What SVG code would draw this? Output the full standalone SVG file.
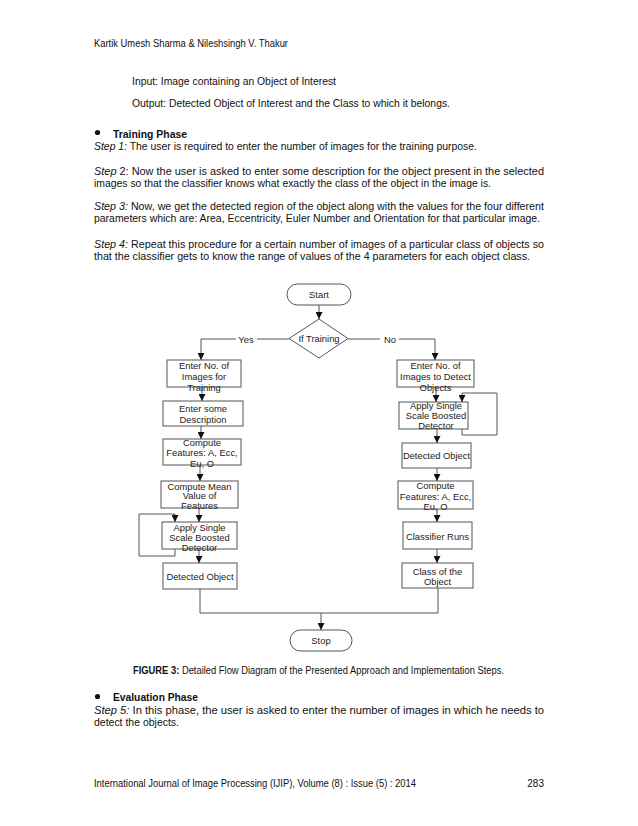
<svg xmlns="http://www.w3.org/2000/svg" width="638" height="826" viewBox="0 0 638 826">
<defs>
<style>
.t{font-family:"Liberation Sans",Arial,sans-serif;font-size:10px;fill:#111}
.b{font-weight:bold}
.i{font-style:italic}
.n{font-family:"Liberation Sans",Arial,sans-serif;font-size:9.4px;fill:#222;text-anchor:middle}
.box{fill:#fff;stroke:#555;stroke-width:1}
.ln{fill:none;stroke:#555;stroke-width:1}
.ar{fill:none;stroke:#555;stroke-width:1;marker-end:url(#ah)}
</style>
<marker id="ah" markerUnits="userSpaceOnUse" markerWidth="7" markerHeight="7" viewBox="0 0 7 7" refX="7" refY="3.5" orient="auto">
<path d="M0,0 L7,3.5 L0,7 Z" fill="#111"/>
</marker>
</defs>
<rect width="638" height="826" fill="#fff"/>

<g id="page-text">
<text class="t" x="94" y="46.5" font-size="9.3" textLength="194" lengthAdjust="spacingAndGlyphs">Kartik Umesh Sharma &amp; Nileshsingh V. Thakur</text>
<text class="t" x="132" y="84.5" textLength="204" lengthAdjust="spacingAndGlyphs">Input: Image containing an Object of Interest</text>
<text class="t" x="132" y="106.5" textLength="318" lengthAdjust="spacingAndGlyphs">Output: Detected Object of Interest and the Class to which it belongs.</text>
<circle cx="97.5" cy="132.5" r="2.6" fill="#111"/>
<text class="t b" x="113" y="137.5" textLength="74" lengthAdjust="spacingAndGlyphs">Training Phase</text>
<text class="t" x="94" y="149.5" textLength="383" lengthAdjust="spacingAndGlyphs"><tspan class="i">Step 1:</tspan> The user is required to enter the number of images for the training purpose.</text>
<text class="t" x="94" y="174.5" textLength="450" lengthAdjust="spacingAndGlyphs"><tspan class="i">Step</tspan> 2: Now the user is asked to enter some description for the object present in the selected</text>
<text class="t" x="94" y="186.5" textLength="397" lengthAdjust="spacingAndGlyphs">images so that the classifier knows what exactly the class of the object in the image is.</text>
<text class="t" x="94" y="209.5" textLength="450" lengthAdjust="spacingAndGlyphs"><tspan class="i">Step 3:</tspan> Now, we get the detected region of the object along with the values for the four different</text>
<text class="t" x="94" y="221.5" textLength="446" lengthAdjust="spacingAndGlyphs">parameters which are: Area, Eccentricity, Euler Number and Orientation for that particular image.</text>
<text class="t" x="94" y="247.5" textLength="450" lengthAdjust="spacingAndGlyphs"><tspan class="i">Step 4:</tspan> Repeat this procedure for a certain number of images of a particular class of objects so</text>
<text class="t" x="94" y="259.5" textLength="436" lengthAdjust="spacingAndGlyphs">that the classifier gets to know the range of values of the 4 parameters for each object class.</text>
<text class="t" x="133" y="673.5" font-size="9.2" textLength="371" lengthAdjust="spacingAndGlyphs"><tspan class="b">FIGURE 3:</tspan> Detailed Flow Diagram of the Presented Approach and Implementation Steps.</text>
<circle cx="97.5" cy="696.5" r="2.6" fill="#111"/>
<text class="t b" x="113" y="701" textLength="85" lengthAdjust="spacingAndGlyphs">Evaluation Phase</text>
<text class="t" x="94" y="714" textLength="450" lengthAdjust="spacingAndGlyphs"><tspan class="i">Step 5:</tspan> In this phase, the user is asked to enter the number of images in which he needs to</text>
<text class="t" x="94" y="726" textLength="85" lengthAdjust="spacingAndGlyphs">detect the objects.</text>
<text class="t" x="94" y="786.5" font-size="9.2" textLength="322" lengthAdjust="spacingAndGlyphs">International Journal of Image Processing (IJIP), Volume (8) : Issue (5) : 2014</text>
<text class="t" x="544" y="786.5" font-size="9.5" text-anchor="end">283</text>
</g>

<g id="connectors">
<line class="ar" x1="319" y1="305" x2="319" y2="319"/>
<polyline class="ln" points="289,339 257,339"/>
<polyline class="ar" points="236,339 201,339 201,360"/>
<polyline class="ln" points="348,339 380,339"/>
<polyline class="ar" points="399,339 435,339 435,360"/>
<line class="ar" x1="202" y1="387" x2="202" y2="401"/>
<line class="ar" x1="201" y1="426" x2="201" y2="439"/>
<line class="ar" x1="200" y1="465" x2="200" y2="481"/>
<line class="ar" x1="199" y1="508" x2="199" y2="522"/>
<polyline class="ar" points="175,549 175,556 139,556 139,514 175,514 175,522"/>
<line class="ar" x1="199" y1="549" x2="199" y2="563"/>
<polyline class="ln" points="200,589 200,613 438,613 438,588"/>
<line class="ar" x1="321" y1="613" x2="321" y2="630"/>
<line class="ar" x1="436" y1="387" x2="436" y2="402"/>
<polyline class="ar" points="462,429 462,435 497,435 497,393 462,393 462,402"/>
<line class="ar" x1="437" y1="429" x2="437" y2="443"/>
<line class="ar" x1="437" y1="468" x2="437" y2="481"/>
<line class="ar" x1="437" y1="509" x2="437" y2="522"/>
<line class="ar" x1="437" y1="549" x2="437" y2="563"/>
<text class="n" x="246" y="342.5">Yes</text>
<text class="n" x="390" y="342.5">No</text>
</g>

<g id="start">
<rect class="box" x="287" y="284" width="64" height="21" rx="10.5"/>
<text class="n" x="319" y="298">Start</text>
</g>
<g id="if-training">
<polygon class="box" points="319,319 348,338.5 319,358 289,338.5"/>
<text class="n" x="319" y="342">If Training</text>
</g>

<g id="enter-training">
<rect class="box" x="167" y="360" width="74" height="27"/>
<text class="n" x="204" y="369">Enter No. of</text>
<text class="n" x="204" y="380">Images for</text>
<text class="n" x="204" y="391">Training</text>
</g>
<g id="enter-description">
<rect class="box" x="163" y="401" width="80" height="25"/>
<text class="n" x="203" y="412">Enter some</text>
<text class="n" x="203" y="422.5">Description</text>
</g>
<g id="compute-features-left">
<rect class="box" x="163" y="439" width="78" height="26"/>
<text class="n" x="202" y="446">Compute</text>
<text class="n" x="202" y="456">Features: A, Ecc,</text>
<text class="n" x="202" y="466.5">Eu, O</text>
</g>
<g id="compute-mean">
<rect class="box" x="161" y="481" width="77" height="27"/>
<text class="n" x="199.5" y="489.5">Compute Mean</text>
<text class="n" x="199.5" y="499">Value of</text>
<text class="n" x="199.5" y="509">Features</text>
</g>
<g id="apply-left">
<rect class="box" x="162" y="522" width="75" height="27"/>
<text class="n" x="199.5" y="530.5">Apply Single</text>
<text class="n" x="199.5" y="540.5">Scale Boosted</text>
<text class="n" x="199.5" y="550.5">Detector</text>
</g>
<g id="detected-left">
<rect class="box" x="163" y="563" width="74" height="26"/>
<text class="n" x="200" y="580">Detected Object</text>
</g>

<g id="enter-detect">
<rect class="box" x="397" y="360" width="77" height="27"/>
<text class="n" x="435.5" y="369">Enter No. of</text>
<text class="n" x="435.5" y="380">Images to Detect</text>
<text class="n" x="435.5" y="391">Objects</text>
</g>
<g id="apply-right">
<rect class="box" x="399" y="402" width="69" height="27"/>
<text class="n" x="436" y="409">Apply Single</text>
<text class="n" x="436" y="419">Scale Boosted</text>
<text class="n" x="436" y="429">Detector</text>
</g>
<g id="detected-right">
<rect class="box" x="402" y="443" width="69" height="25"/>
<text class="n" x="436.5" y="458.5">Detected Object</text>
</g>
<g id="compute-features-right">
<rect class="box" x="398" y="481" width="75" height="28"/>
<text class="n" x="435.5" y="488.5">Compute</text>
<text class="n" x="435.5" y="500">Features: A, Ecc,</text>
<text class="n" x="435.5" y="510">Eu, O</text>
</g>
<g id="classifier-runs">
<rect class="box" x="403" y="522" width="69" height="27"/>
<text class="n" x="437.5" y="540">Classifier Runs</text>
</g>
<g id="class-object">
<rect class="box" x="402" y="563" width="71" height="25"/>
<text class="n" x="437.5" y="574.5">Class of the</text>
<text class="n" x="437.5" y="584.5">Object</text>
</g>
<g id="stop">
<rect class="box" x="290" y="630" width="62" height="21" rx="10.5"/>
<text class="n" x="321" y="644">Stop</text>
</g>
</svg>
